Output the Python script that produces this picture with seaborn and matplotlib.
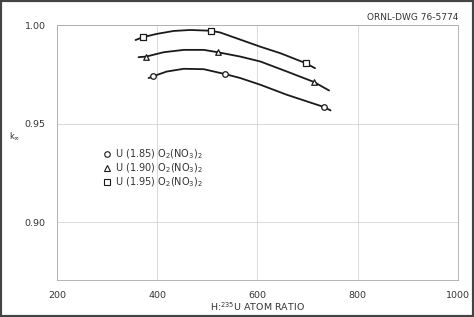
import matplotlib
matplotlib.use("Agg")
import matplotlib.pyplot as plt
import seaborn as sns
import pandas as pd
from matplotlib.lines import Line2D
from matplotlib.patches import Rectangle

# Data points
labels = ["U (1.85) O$_2$(NO$_3$)$_2$", "U (1.90) O$_2$(NO$_3$)$_2$", "U (1.95) O$_2$(NO$_3$)$_2$"]
markers = ["o", "^", "s"]

pts_x_185 = [391, 536, 733]
pts_y_185 = [0.9739, 0.9751, 0.9584]
pts_x_190 = [378, 521, 713]
pts_y_190 = [0.9840, 0.9862, 0.9711]
pts_x_195 = [371, 508, 696]
pts_y_195 = [0.9938, 0.9971, 0.9807]

# Hand-drawn curves
crv_x_185 = [383, 391, 419, 453, 493, 536, 566, 606, 659, 733, 746]
crv_y_185 = [0.9731, 0.9739, 0.9764, 0.9778, 0.9776, 0.9751, 0.9731, 0.9697, 0.9646, 0.9584, 0.9567]
crv_x_190 = [363, 378, 413, 453, 493, 521, 566, 606, 659, 713, 743]
crv_y_190 = [0.9837, 0.9840, 0.9862, 0.9874, 0.9874, 0.9862, 0.9840, 0.9815, 0.9764, 0.9711, 0.9668]
crv_x_195 = [357, 371, 399, 433, 466, 508, 526, 566, 606, 646, 696, 715]
crv_y_195 = [0.9924, 0.9938, 0.9955, 0.9970, 0.9975, 0.9971, 0.9962, 0.9926, 0.9890, 0.9857, 0.9807, 0.9781]

x_ticks = [200, 400, 600, 800, 1000]
y_ticks = [0.90, 0.95, 1.00]
y_tick_labels = ["0.90", "0.95", "1.00"]

sns.set_theme(style="white")
plt.rcParams["font.family"] = ["DejaVu Sans"]

fig = plt.figure(figsize=(4.74, 3.17), dpi=100)
ax = fig.add_axes([0.120, 0.117, 0.846, 0.804])

ink = "#1a1a1a"
txt = "#333333"
curves = [(crv_x_185, crv_y_185), (crv_x_190, crv_y_190), (crv_x_195, crv_y_195)]
pts = [(pts_x_185, pts_y_185), (pts_x_190, pts_y_190), (pts_x_195, pts_y_195)]

for (cx, cy) in curves:
    df = pd.DataFrame({"x": cx, "y": cy})
    sns.lineplot(data=df, x="x", y="y", ax=ax, color=ink, lw=1.3, sort=False, estimator=None)

for (px, py), m in zip(pts, markers):
    df = pd.DataFrame({"x": px, "y": py})
    sns.scatterplot(data=df, x="x", y="y", ax=ax, marker=m, s=16, facecolor="white",
                    edgecolor=ink, linewidth=0.9, zorder=5)

ax.set_xlim(200, 1000)
ax.set_ylim(0.8707, 1.0)
ax.set_xticks(x_ticks)
ax.set_yticks(y_ticks)
ax.set_yticklabels(y_tick_labels)
ax.grid(True, color="#cccccc", lw=0.5)
for s in ax.spines.values():
    s.set_color("#aaaaaa")
    s.set_linewidth(0.6)
ax.tick_params(axis="both", length=0, labelsize=6.8, colors=txt, pad=8)
ax.set_xlabel("H:$^{235}$U ATOM RATIO", fontsize=6.8, color=txt, labelpad=0)
ax.set_ylabel("")

handles = [Line2D([], [], ls="none", marker=m, markersize=4, markerfacecolor="white",
                  markeredgecolor=ink, markeredgewidth=0.8) for m in markers]
ax.legend(handles, labels, loc="upper left", bbox_to_anchor=(0.09, 0.555), frameon=False,
          fontsize=7.0, handletextpad=0.4, labelspacing=0.05, handlelength=1.0,
          labelcolor=txt)

fig.text(0.966, 0.946, "ORNL-DWG 76-5774", ha="right", va="center", fontsize=6.5, color=txt)
fig.text(0.030, 0.57, "k$_\\infty$", ha="center", va="center", fontsize=6, color=txt)

fig.patches.append(Rectangle((0, 0), 1, 1, transform=fig.transFigure, fill=False,
                             edgecolor="#444444", linewidth=3))

fig.savefig("out.png", dpi=100)
